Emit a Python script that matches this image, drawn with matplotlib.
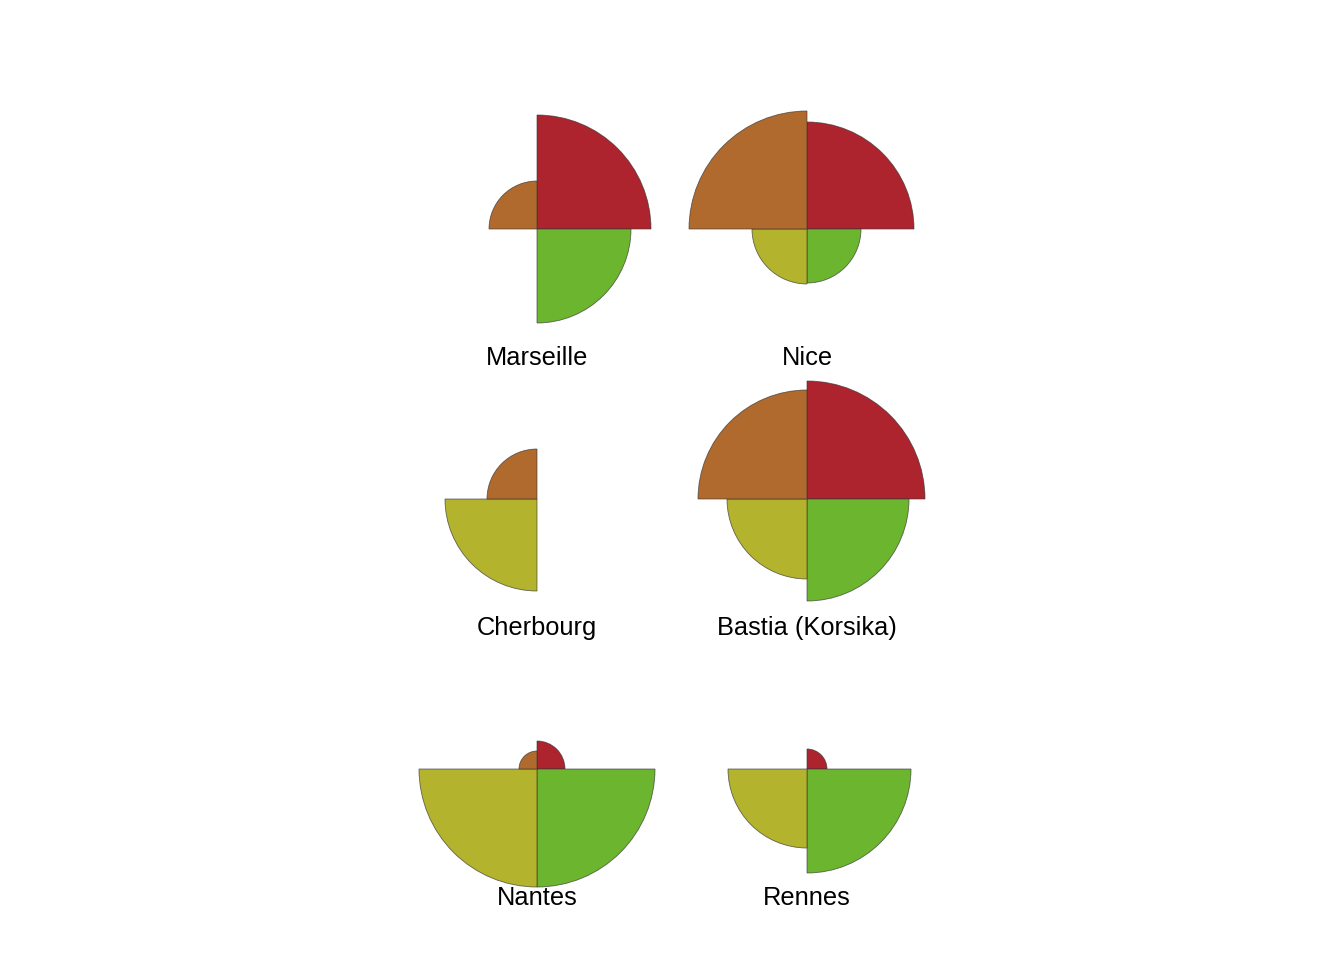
import numpy as np
import matplotlib
matplotlib.use("Agg")
import matplotlib.pyplot as plt

# cities (facets), drawn row by row
cities = ["Marseille", "Nice", "Cherbourg", "Bastia (Korsika)", "Nantes", "Rennes"]
# quadrant values, clockwise from the top: red, green, olive, brown
marseille = [114, 94, 0, 48]
nice = [107, 54, 55, 118]
cherbourg = [0, 0, 92, 50]
bastia = [118, 102, 80, 109]
nantes = [28, 118, 118, 18]
rennes = [20, 104, 79, 0]
values = [marseille, nice, cherbourg, bastia, nantes, rennes]

colors = ["#AD242E", "#6CB52E", "#B3B32D", "#B06A2D"]

W, H = 1344, 960
R = 130  # axis radius in pixels == rmax
centers_x = [537, 807]
centers_y = [229, 499, 769]

plt.rcParams["font.family"] = ["Liberation Sans", "DejaVu Sans"]
fig = plt.figure(figsize=(W / 100, H / 100), dpi=100)

theta = np.deg2rad([0, 90, 180, 270])
for i, (city, vals) in enumerate(zip(cities, values)):
    cx = centers_x[i % 2]
    cy = centers_y[i // 2]
    ax = fig.add_axes([(cx - R) / W, (H - cy - R) / H, 2 * R / W, 2 * R / H],
                      projection="polar")
    ax.set_theta_zero_location("N")
    ax.set_theta_direction(-1)
    ax.bar(theta, vals, width=np.pi / 2, align="edge", color=colors,
           edgecolor=(0.2, 0.2, 0.2, 0.7), linewidth=0.6)
    ax.set_ylim(0, R)
    ax.set_axis_off()
    fig.text(cx / W, 1 - (cy + 129) / H, city, ha="center", va="center",
             fontsize=18.3, color="black")

fig.savefig("out.png", dpi=100, facecolor="white")
